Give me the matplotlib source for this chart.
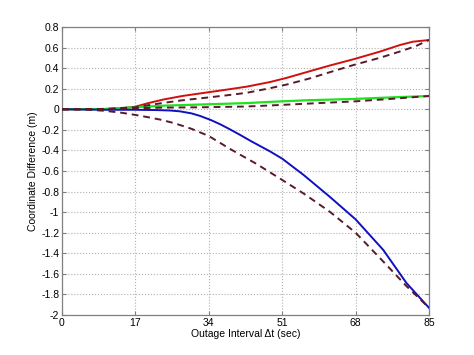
import matplotlib
matplotlib.use("Agg")
import matplotlib.pyplot as plt

# Data
red_x = [0, 10, 14, 17, 20, 23.5, 28, 33.5, 38, 42.8, 48.2, 52, 57.4, 62, 67.5, 73.6, 78.3, 81.3, 85]
red_y = [0, 0.003, 0.01, 0.025, 0.06, 0.095, 0.13, 0.163, 0.19, 0.22, 0.265, 0.305, 0.37, 0.425, 0.486, 0.56, 0.625, 0.657, 0.673]

red_ref_x = [0, 10, 17, 20, 23.5, 28, 33.5, 38, 42.8, 48.2, 52, 57.4, 62, 67.5, 73.6, 78.9, 82, 85]
red_ref_y = [0, 0.002, 0.02, 0.04, 0.062, 0.088, 0.113, 0.135, 0.16, 0.205, 0.24, 0.30, 0.36, 0.43, 0.50, 0.57, 0.615, 0.673]

green_x = [0, 10, 17, 23.5, 33.5, 42.8, 48.2, 57, 67.5, 76, 85]
green_y = [0, 0.003, 0.02, 0.035, 0.048, 0.06, 0.072, 0.088, 0.10, 0.115, 0.129]

green_ref_x = [0, 10, 17, 23.5, 33.5, 42.8, 48.2, 57, 67.5, 76, 85]
green_ref_y = [0, 0.002, 0.01, 0.016, 0.02, 0.027, 0.037, 0.055, 0.076, 0.10, 0.129]

blue_x = [0, 10, 17, 22, 25, 27.3, 30, 32, 34.5, 36.6, 38.9, 41.2, 44, 48.2, 51, 56, 62, 68, 74.4, 79.8, 85]
blue_y = [0, -0.005, -0.005, -0.008, -0.012, -0.02, -0.04, -0.065, -0.105, -0.145, -0.195, -0.248, -0.315, -0.41, -0.48, -0.64, -0.85, -1.07, -1.367, -1.69, -1.93]

blue_ref_x = [0, 5, 10, 14, 17, 20, 22.7, 26, 30, 34, 38.9, 41.2, 45, 51, 56, 62, 68, 74.4, 79.8, 85]
blue_ref_y = [0, -0.002, -0.015, -0.035, -0.055, -0.078, -0.10, -0.135, -0.19, -0.26, -0.385, -0.44, -0.53, -0.687, -0.82, -0.995, -1.2, -1.48, -1.72, -1.93]

x_ticks = [0, 17, 34, 51, 68, 85]
y_ticks = [-2, -1.8, -1.6, -1.4, -1.2, -1, -0.8, -0.6, -0.4, -0.2, 0, 0.2, 0.4, 0.6, 0.8]
y_tick_labels = ["-2", "-1.8", "-1.6", "-1.4", "-1.2", "-1", "-0.8", "-0.6", "-0.4", "-0.2", "0", "0.2", "0.4", "0.6", "0.8"]

plt.rcParams['font.family'] = ['Liberation Sans', 'DejaVu Sans']

fig = plt.figure(figsize=(4.74, 3.55), dpi=100)
ax = fig.add_axes([0.1308, 0.1127, 0.7742, 0.8113])

dash_color = '#5a1a2a'
ax.plot(red_x, red_y, color='#d01010', lw=1.4, zorder=3, solid_joinstyle='round')
ax.plot(green_x, green_y, color='#20e020', lw=1.6, zorder=3, solid_joinstyle='round')
ax.plot(blue_x, blue_y, color='#1010c0', lw=1.4, zorder=3, solid_joinstyle='round')
for xs, ys in [(red_ref_x, red_ref_y), (green_ref_x, green_ref_y), (blue_ref_x, blue_ref_y)]:
    ax.plot(xs, ys, color=dash_color, lw=1.4, ls=(0, (3.5, 2.5)), zorder=4)

ax.set_xlim(0, 85)
ax.set_ylim(-2, 0.8)
ax.set_xticks(x_ticks)
ax.set_xticklabels([str(t) for t in x_ticks])
ax.set_yticks(y_ticks)
ax.set_yticklabels(y_tick_labels)
ax.grid(True, color='#b0b0b0', ls=':', lw=0.8)
ax.tick_params(direction='in', top=True, right=True, labelsize=7.5, length=3, color='#808080', pad=2)
for s in ax.spines.values():
    s.set_color('#808080')
    s.set_linewidth(0.9)
ax.set_xlabel('Outage Interval \u0394t (sec)', fontsize=7.5, labelpad=1)
ax.set_ylabel('Coordinate Difference (m)', fontsize=7.5, labelpad=2)

fig.savefig('out.png', dpi=100)
